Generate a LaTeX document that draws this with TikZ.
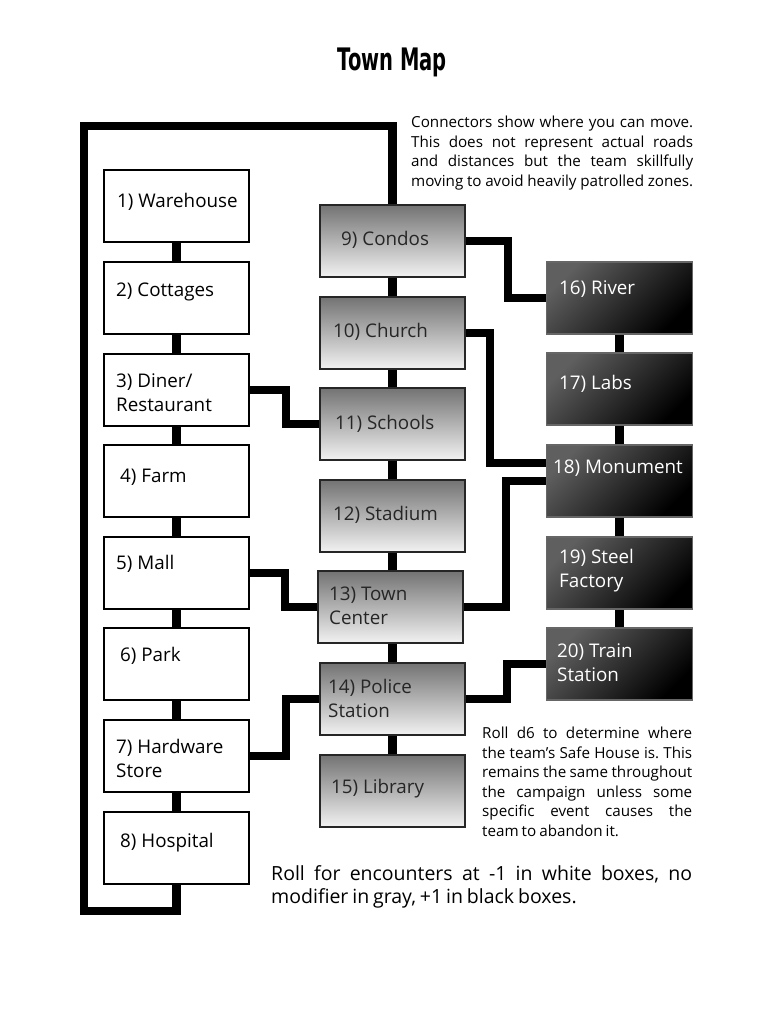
\documentclass[tikz,border=0pt]{standalone}
\usepackage{graphicx}
\usepackage{fontspec}
\setmainfont{Open Sans}
\newfontfamily\titlefont{DejaVu Sans}
\definecolor{gtop}{RGB}{115,115,115}
\definecolor{gbot}{RGB}{242,242,242}
\definecolor{ktop}{RGB}{95,95,95}
\definecolor{kbot}{RGB}{0,0,0}
\newcommand\mytightpar{\parfillskip 0pt\relax}
\newcommand\mynarrow{\frenchspacing\spaceskip .2em plus .6em minus .06em\relax\hyphenpenalty 10000\relax}
\newcommand\smallparfont{\fontsize{15.2}{19.5}\selectfont\mynarrow}
\begin{document}
\begin{tikzpicture}[x=1pt,y=-1pt,
  box/.style={minimum width=145pt, minimum height=72pt, inner sep=0pt, draw=black, line width=1.5pt},
  wbox/.style={box, fill=white},
  gbox/.style={box, top color=gtop, bottom color=gbot, draw=black!85},
  kbox/.style={box, top color=ktop, bottom color=kbot, shading angle=45, draw=black!60, minimum width=146pt},
  conn/.style={line width=8.5pt, draw=black, line join=miter},
  lbl/.style={anchor=west, inner sep=0pt, align=left, font=\fontsize{18.8}{24}\selectfont},
  wl/.style={lbl, text=black},
  gl/.style={lbl, text=black!85},
  kl/.style={lbl, text=white},
  para/.style={anchor=north west, inner sep=0pt, align=justify}
]
\useasboundingbox[fill=white] (0,0) rectangle (768,1024);

% title
\node (title) at (392,62) {\titlefont\bfseries\fontsize{31}{31}\selectfont\scalebox{0.63}[1]{Town Map}};

% white boxes
\node[wbox] (b1) at (176.5,206) {};
\node[wbox] (b2) at (176.5,298) {};
\node[wbox] (b3) at (176.5,390) {};
\node[wbox] (b4) at (176.5,481) {};
\node[wbox] (b5) at (176.5,573) {};
\node[wbox] (b6) at (176.5,664) {};
\node[wbox] (b7) at (176.5,756) {};
\node[wbox] (b8) at (176.5,848) {};

% gray boxes
\node[gbox] (b9) at (392.5,241) {};
\node[gbox] (b10) at (392.5,333) {};
\node[gbox] (b11) at (392.5,424) {};
\node[gbox] (b12) at (392.5,516) {};
\node[gbox] (b13) at (390.5,607) {};
\node[gbox] (b14) at (392.5,699) {};
\node[gbox] (b15) at (392.5,791) {};

% black boxes
\node[kbox] (b16) at (619.5,298) {};
\node[kbox] (b17) at (619.5,389) {};
\node[kbox] (b18) at (619.5,481) {};
\node[kbox] (b19) at (619.5,573) {};
\node[kbox] (b20) at (619.5,664) {};

% labels
\node[wl] (l1) at (117,202) {1) Warehouse};
\node[wl] (l2) at (116,292) {2) Cottages};
\node[wl] (l3) at (116,393) {3) Diner/\\Restaurant};
\node[wl] (l4) at (120,477) {4) Farm};
\node[wl] (l5) at (116,564) {5) Mall};
\node[wl] (l6) at (120,656) {6) Park};
\node[wl] (l7) at (116,758) {7) Hardware\\Store};
\node[wl] (l8) at (120,843) {8) Hospital};

\node[gl] (l9) at (341,240) {9) Condos};
\node[gl] (l10) at (333,332) {10) Church};
\node[gl] (l11) at (335,424) {11) Schools};
\node[gl] (l12) at (333,515) {12) Stadium};
\node[gl] (l13) at (329,606) {13) Town\\Center};
\node[gl] (l14) at (328,698) {14) Police\\Station};
\node[gl] (l15) at (331,789) {15) Library};

\node[kl] (l16) at (559,289) {16) River};
\node[kl] (l17) at (559,384) {17) Labs};
\node[kl] (l18) at (553,468) {18) Monument};
\node[kl] (l19) at (559,571) {19) Steel\\Factory};
\node[kl] (l20) at (557,663) {20) Train\\Station};

% vertical connectors
\foreach \a/\b in {b1/b2,b2/b3,b3/b4,b4/b5,b5/b6,b6/b7,b7/b8,
                   b9/b10,b10/b11,b11/b12,b14/b15,
                   b16/b17,b17/b18,b18/b19,b19/b20}
  \draw[conn] (\a.south) -- (\b.north);
\draw[conn] (b12.south) -- (b12.south |- b13.north);
\draw[conn] (b12.south |- b13.south) -- (b14.north);

% loop
\coordinate (lc1) at (84,911);
\coordinate (lc2) at (84,126);
\draw[conn] (b8.south) |- (lc1) -- (lc2) -| (b9.north);

% cross connectors
\draw[conn] (b3.east) -- ++(36,0) |- (b11.west);
\draw[conn] (b5.east) -- ++(35,0) |- (b13.west);
\draw[conn] (b7.east) -- ++(36,0) |- (b14.west);
\draw[conn] (b9.east) -- ++(42,0) |- (b16.west);
\draw[conn] (b10.east) -- ++(24,0) |- ([yshift=18pt]b18.west);
\draw[conn] (b13.east) -- ++(42,0) |- (b18.west);
\draw[conn] (b14.east) -- ++(41,0) |- (b20.west);

% texts
\node[para, text width=282pt, font=\smallparfont\mytightpar] (t1) at (411,116)
  {Connectors show where you can move.\linebreak
   This does not represent actual roads\linebreak and distances but the team skillfully\linebreak
   moving to avoid heavily patrolled zones.};
\node[para, text width=210pt, font=\smallparfont] (t2) at (482,727)
  {Roll d6 to determine where\linebreak the team’s Safe House is. This\linebreak
   remains the same throughout\linebreak the campaign unless some\linebreak specific event causes the\linebreak
   team to abandon it.};
\node[para, text width=421pt, font=\fontsize{19.5}{23}\selectfont\mynarrow] (t3) at (271,865)
  {Roll for encounters at -1 in white boxes, no\linebreak modifier in gray, +1 in black boxes.};
\end{tikzpicture}
\end{document}
